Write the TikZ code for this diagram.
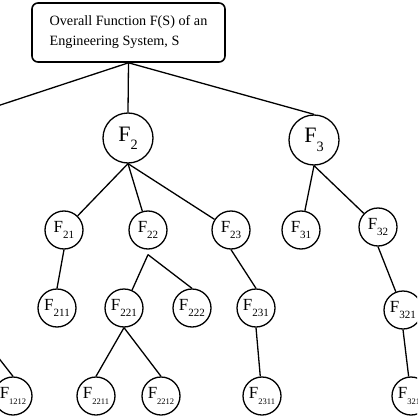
\documentclass[tikz,border=0pt]{standalone}
\usepackage{fontspec}
\setmainfont{Liberation Serif}
\newcommand{\Fs}[2][0.65]{F\raisebox{-0.38em}{\scalebox{#1}{#2}}}

\begin{document}
\begin{tikzpicture}[x=1pt, y=-1pt, line width=1.3pt,
		main/.style = {draw, circle, inner sep=0pt, minimum size=38pt, font=\fontsize{17}{17}\selectfont},
		big/.style = {main, minimum size=50pt, font=\fontsize{22}{22}\selectfont},
		topbox/.style = {draw, line width=1.6pt, rounded corners=6pt, align=left, minimum width=193pt, minimum height=59pt, font=\fontsize{14.2}{20}\selectfont}]
			\useasboundingbox (0,0) rectangle (417,417);
			\clip (0,0) rectangle (417,417);
			
			\node[topbox] (S) at (128.5,32.5) {Overall Function F(S) of an\\Engineering System, S};
			
			% first level
			\coordinate (1) at (-30,115);
			\node[big] (2) at (128,138) {\Fs{2}};
			\node[big] (3) at (314,140) {\Fs{3}};
			
			% second level
			\node[main] (21) at (64,230) {\Fs{21}};
			\node[main] (22) at (148,230) {\Fs{22}};
			\node[main] (23) at (231,230) {\Fs{23}};
			\node[main] (31) at (301,230) {\Fs{31}};
			\node[main] (32) at (378,227) {\Fs{32}};
			
			% third level
			\coordinate (121) at (-24,329);
			\node[main] (211) at (57,308) {\Fs{211}};
			\node[main] (221) at (124,308) {\Fs{221}};
			\node[main] (222) at (192,308) {\Fs{222}};
			\node[main] (231) at (256,308) {\Fs{231}};
			\node[main] (321) at (403,310) {\Fs{321}};
			
			% fourth level
			\node[main] (1212) at (13,396) {\Fs[0.5]{1212}};
			\node[main] (2211) at (96,396) {\Fs[0.5]{2211}};
			\node[main] (2212) at (161,396) {\Fs[0.5]{2212}};
			\node[main] (2311) at (262,396) {\Fs[0.5]{2311}};
			\node[main] (3211) at (411,396) {\Fs[0.5]{3211}};
			
			\draw (S.south) -- (1);
			\draw (S.south) -- (2.north);
			\draw (S.south) -- (3.north);
			\draw (2.south) -- (21);
			\draw (2.south) -- (22);
			\draw (2.south) -- (23);
			\draw (3.south) -- (31);
			\draw (3.south) -- (32);
			\draw (21.south) -- (211.north);
			\draw ([yshift=-5pt]22.south) -- (221);
			\draw ([yshift=-5pt]22.south) -- (222.north);
			\draw (23.south) -- (231.north);
			\draw (32.south) -- (321);
			\draw (121) -- (1212.north);
			\draw (221.south) -- (2211.north);
			\draw (221.south) -- (2212.north);
			\draw (231.south) -- (2311);
			\draw (321.south) -- (3211);
		\end{tikzpicture}
\end{document}
